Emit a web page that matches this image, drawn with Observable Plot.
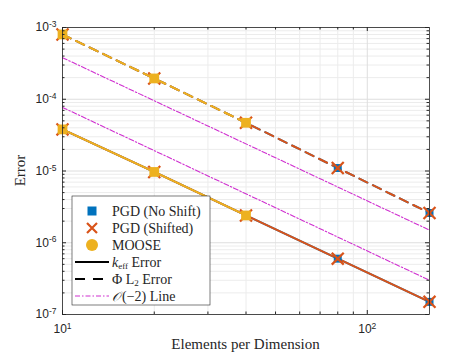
<!DOCTYPE html>
<html>
<head>
<meta charset="utf-8">
<script src="https://cdn.jsdelivr.net/npm/d3@7"></script>
<script src="https://cdn.jsdelivr.net/npm/@observablehq/plot@0.6"></script>
<style>
  html, body { margin: 0; padding: 0; background: white; }
  #chart { width: 474px; height: 355px; }
</style>
</head>
<body>
<div id="chart"></div>
<script>
// ---- data ----
const elements = [10, 20, 40, 80, 160];
const keffError = [3.8e-5, 9.7e-6, 2.4e-6, 6.0e-7, 1.5e-7];
const phiError = [8.0e-4, 1.95e-4, 4.7e-5, 1.1e-5, 2.6e-6];
const mooseElements = [10, 20, 40];
const mooseKeff = [3.8e-5, 9.7e-6, 2.4e-6];
const moosePhi = [8.0e-4, 1.95e-4, 4.7e-5];
const refElements = [10, 160];
const refUpper = [3.8e-4, 1.5e-6];
const refLower = [7.7e-5, 3.0e-7];
const xTickValues = [10, 100];
const xMinorValues = [20, 30, 40, 50, 60, 70, 80, 90];
const yTickValues = [1e-7, 1e-6, 1e-5, 1e-4, 1e-3];
const yMinorValues = [1e-7, 1e-6, 1e-5, 1e-4].flatMap(d => [2,3,4,5,6,7,8,9].map(k => k * d));
const legendLabels = ["PGD (No Shift)", "PGD (Shifted)", "MOOSE", "Error", "Φ L", "(−2) Line"];

const pgd = elements.map((n, i) => ({n, keff: keffError[i], phi: phiError[i]}));
const moose = mooseElements.map((n, i) => ({n, keff: mooseKeff[i], phi: moosePhi[i]}));
const ref = refElements.map((n, i) => ({n, upper: refUpper[i], lower: refLower[i]}));

const W = 474, H = 355;
const mL = 62, mR = 45, mT = 27, mB = 41;
const pw = W - mL - mR, ph = H - mT - mB;

const BLUE = "#0072BD", ORANGE = "#D95319", YELLOW = "#EDB120", MAG = "#d030d0", INK = "#262626";
const dash = "9,6";
const dashDot = "5,2,1.5,2";
const expFmt = d => "10^" + Math.round(Math.log10(d));

const chart = Plot.plot({
  width: W, height: H,
  marginLeft: mL, marginRight: mR, marginTop: mT, marginBottom: mB,
  style: {fontFamily: "Liberation Sans, Arial, sans-serif", fontSize: "12px", color: INK, background: "white"},
  x: {type: "log", domain: [10, 160]},
  y: {type: "log", domain: [1e-7, 1e-3]},
  marks: [
    // grid
    Plot.ruleX(xMinorValues, {stroke: "#ececec", strokeWidth: 1}),
    Plot.ruleY(yMinorValues, {stroke: "#ececec", strokeWidth: 1}),
    Plot.ruleX(xTickValues, {stroke: "#dedede", strokeWidth: 1}),
    Plot.ruleY(yTickValues, {stroke: "#dedede", strokeWidth: 1}),
    // reference O(-2) lines
    Plot.line(ref, {x: "n", y: "upper", stroke: MAG, strokeWidth: 1.1, strokeDasharray: dashDot}),
    Plot.line(ref, {x: "n", y: "lower", stroke: MAG, strokeWidth: 1.1, strokeDasharray: dashDot}),
    // PGD lines
    Plot.line(pgd, {x: "n", y: "keff", stroke: BLUE, strokeWidth: 2}),
    Plot.line(pgd, {x: "n", y: "phi", stroke: BLUE, strokeWidth: 2, strokeDasharray: dash}),
    Plot.line(pgd, {x: "n", y: "keff", stroke: ORANGE, strokeWidth: 2}),
    Plot.line(pgd, {x: "n", y: "phi", stroke: ORANGE, strokeWidth: 2, strokeDasharray: dash}),
    // MOOSE lines
    Plot.line(moose, {x: "n", y: "keff", stroke: YELLOW, strokeWidth: 2}),
    Plot.line(moose, {x: "n", y: "phi", stroke: YELLOW, strokeWidth: 2, strokeDasharray: dash}),
    // markers
    Plot.dot(pgd, {x: "n", y: "keff", symbol: "square", fill: BLUE, r: 4.5}),
    Plot.dot(pgd, {x: "n", y: "phi", symbol: "square", fill: BLUE, r: 4.5}),
    Plot.dot(pgd, {x: "n", y: "keff", symbol: "times", stroke: ORANGE, strokeWidth: 2.2, r: 5.5}),
    Plot.dot(pgd, {x: "n", y: "phi", symbol: "times", stroke: ORANGE, strokeWidth: 2.2, r: 5.5}),
    Plot.dot(moose, {x: "n", y: "keff", symbol: "square", fill: YELLOW, r: 5.5}),
    Plot.dot(moose, {x: "n", y: "phi", symbol: "square", fill: YELLOW, r: 5.5}),
    // inward ticks (box on all sides)
    Plot.ruleX(xTickValues, {stroke: INK, insetTop: ph - 4}),
    Plot.ruleX(xTickValues, {stroke: INK, insetBottom: ph - 4}),
    Plot.ruleX(xMinorValues, {stroke: INK, insetTop: ph - 2.5}),
    Plot.ruleX(xMinorValues, {stroke: INK, insetBottom: ph - 2.5}),
    Plot.ruleY(yTickValues, {stroke: INK, insetRight: pw - 4}),
    Plot.ruleY(yTickValues, {stroke: INK, insetLeft: pw - 4}),
    Plot.ruleY(yMinorValues, {stroke: INK, insetRight: pw - 2.5}),
    Plot.ruleY(yMinorValues, {stroke: INK, insetLeft: pw - 2.5}),
    Plot.frame({stroke: INK, strokeWidth: 0.8}),
    // axes
    Plot.axisX(xTickValues, {tickSize: 0, tickPadding: 10, tickFormat: expFmt, label: null, fontSize: 12}),
    Plot.axisY(yTickValues, {tickSize: 0, tickPadding: 6, tickFormat: expFmt, label: null, fontSize: 12})
  ]
});

document.getElementById("chart").appendChild(chart);
const svg = d3.select(chart);

// superscript exponents in tick labels
svg.selectAll('[aria-label="x-axis tick label"] text, [aria-label="y-axis tick label"] text').each(function() {
  const t = d3.select(this);
  const s = t.text();
  const [base, exp] = s.split("^");
  t.text(null);
  t.append("tspan").text(base);
  t.append("tspan").attr("font-size", "8.5px").attr("dy", "-0.5em").text(exp);
});

const SERIF = "Liberation Serif, DejaVu Serif, serif";

// axis titles
svg.append("text")
  .attr("x", mL + pw / 2).attr("y", 349)
  .attr("text-anchor", "middle")
  .attr("font-family", SERIF).attr("font-size", "15px").attr("fill", INK)
  .text("Elements per Dimension");
svg.append("text")
  .attr("transform", `translate(25,${mT + ph / 2}) rotate(-90)`)
  .attr("text-anchor", "middle")
  .attr("font-family", SERIF).attr("font-size", "15px").attr("fill", INK)
  .text("Error");

// legend
const lg = svg.append("g").attr("font-family", SERIF).attr("font-size", "14px").attr("fill", INK).attr("text-anchor", "start");
const bx = 72, by = 196, bw = 138, bh = 109;
lg.append("rect").attr("x", bx).attr("y", by).attr("width", bw).attr("height", bh)
  .attr("fill", "white").attr("stroke", INK).attr("stroke-width", 0.6);
const rowsY = [211, 228, 245, 262, 279, 296];
const mx = 92, lx1 = 75, lx2 = 109, tx = 112;
lg.append("rect").attr("x", mx - 4.5).attr("y", rowsY[0] - 4.5).attr("width", 9).attr("height", 9).attr("fill", BLUE);
lg.append("path").attr("d", `M${mx-5},${rowsY[1]-5}L${mx+5},${rowsY[1]+5}M${mx-5},${rowsY[1]+5}L${mx+5},${rowsY[1]-5}`)
  .attr("stroke", ORANGE).attr("stroke-width", 2.2);
lg.append("circle").attr("cx", mx).attr("cy", rowsY[2]).attr("r", 6).attr("fill", YELLOW);
lg.append("line").attr("x1", lx1).attr("x2", lx2).attr("y1", rowsY[3]).attr("y2", rowsY[3]).attr("stroke", "black").attr("stroke-width", 2);
lg.append("line").attr("x1", lx1).attr("x2", lx2).attr("y1", rowsY[4]).attr("y2", rowsY[4]).attr("stroke", "black").attr("stroke-width", 2.2).attr("stroke-dasharray", "10,8");
lg.append("line").attr("x1", lx1).attr("x2", lx2).attr("y1", rowsY[5]).attr("y2", rowsY[5]).attr("stroke", MAG).attr("stroke-width", 1.1).attr("stroke-dasharray", dashDot);

const addText = (i) => lg.append("text").attr("x", tx).attr("y", rowsY[i]).attr("dy", "0.35em").attr("text-anchor", "start");
addText(0).text(legendLabels[0]);
addText(1).text(legendLabels[1]);
addText(2).text(legendLabels[2]);
{
  const t = addText(3);
  t.append("tspan").attr("font-style", "italic").text("k");
  t.append("tspan").attr("font-size", "9px").attr("dy", "2").text("eff");
  t.append("tspan").attr("dy", "-2").text(" " + legendLabels[3]);
}
{
  const t = addText(4);
  t.append("tspan").text(legendLabels[4]);
  t.append("tspan").attr("font-size", "9px").attr("dy", "2").text("2");
  t.append("tspan").attr("dy", "-2").text(" Error");
}
{
  const t = addText(5);
  t.append("tspan").attr("font-family", "DejaVu Sans, serif").attr("font-style", "italic").attr("font-size", "13px").text("𝒪");
  t.append("tspan").attr("dx", "2").text(legendLabels[5]);
}
</script>
</body>
</html>
